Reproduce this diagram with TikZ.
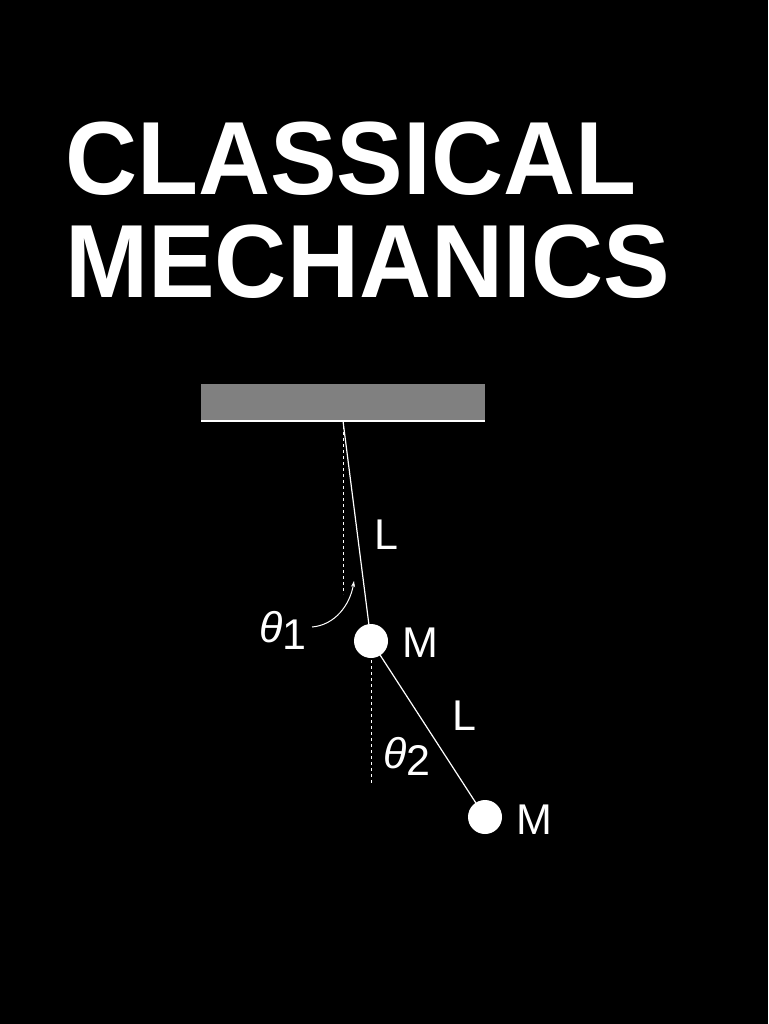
\documentclass[tikz,border=0pt]{standalone}
\usepackage{fontspec}
\setmainfont{Liberation Sans}
\usetikzlibrary{arrows.meta}
\begin{document}
\begin{tikzpicture}[x=1pt,y=-1pt,
  lbl/.style={text=white,font=\fontsize{43}{43}\selectfont,inner sep=0pt},
  title/.style={text=white,font=\fontsize{104}{104}\selectfont\bfseries,anchor=base west,inner sep=0pt,xscale=0.96},
  mass/.style={circle,fill=white,minimum size=34pt,inner sep=0pt},
  rod/.style={white,line width=1.2pt},
  ref/.style={white,line width=1pt,dash pattern=on 3pt off 3pt}]
\fill[black] (0,0) rectangle (768,1024);
\useasboundingbox (0,0) rectangle (768,1024);
\node[title] (t1) at (65,195) {CLASSICAL};
\node[title] (t2) at (65,297) {MECHANICS};
\fill[fill={rgb,255:red,128;green,128;blue,128}] (201,384) rectangle (485,420);
\draw[white,line width=2pt] (201,421) -- (485,421);
\coordinate (piv) at (343,421);
\node[mass] (m1) at (371,641) {};
\node[mass] (m2) at (485,817) {};
\draw[rod] (piv) -- (m1.center);
\draw[rod] (m1.center) -- (m2.center);
\coordinate (d1a) at (343,426); \coordinate (d1b) at (343,594);
\draw[ref] (d1a) -- (d1b);
\coordinate (d2a) at (371,660); \coordinate (d2b) at (371,784);
\draw[ref] (d2a) -- (d2b);
\node[lbl] (L1) at (386,535) {L};
\node[lbl] (L2) at (464,716) {L};
\node[lbl,anchor=west] (M1) at (402,643) {M};
\node[lbl,anchor=west] (M2) at (516,820) {M};
\node[lbl] (th1) at (283,630) {\textit{θ}\raisebox{-7pt}{1}};
\node[lbl] (th2) at (407,756) {\textit{θ}\raisebox{-7pt}{2}};
\coordinate (a0) at (312,627); \coordinate (a1) at (354,581);
\draw[white,line width=1pt,-{Stealth[length=6pt,width=4pt]}] (a0) .. controls (335,625) and (350,605) .. (a1);
\end{tikzpicture}
\end{document}
